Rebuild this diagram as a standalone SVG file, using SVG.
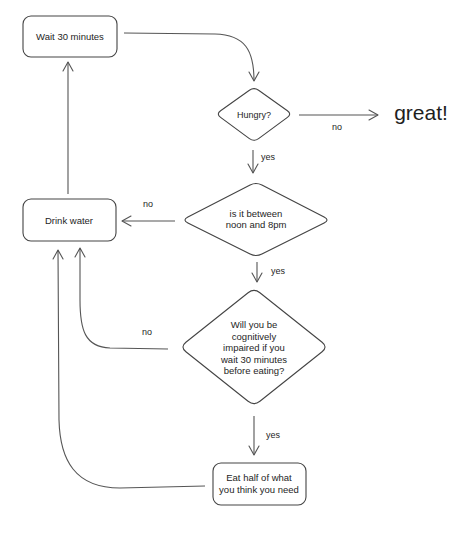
<svg xmlns="http://www.w3.org/2000/svg" width="474" height="536" viewBox="0 0 474 536">
<defs>
<marker id="arr" markerUnits="userSpaceOnUse" markerWidth="14" markerHeight="14" refX="10" refY="6" orient="auto">
<path d="M1,1 L10,6 L1,11" fill="none" stroke="#555" stroke-width="1.1" stroke-linecap="round" stroke-linejoin="round"/>
</marker>
<style>
.n{fill:#fff;stroke:#444;stroke-width:1.1}
.c{fill:none;stroke:#555;stroke-width:1.1;marker-end:url(#arr)}
text{font-family:"Liberation Sans",Arial,sans-serif;font-size:9.5px;fill:#1e1e1e;text-anchor:middle}
.l{font-size:9px}
</style>
</defs>
<rect width="474" height="536" fill="#fff"/>
<g id="connectors">
<path class="c" d="M124,33 L215,34 C245,35 254,50 254,81"/>
<path class="c" d="M299,115 L378,115"/>
<path class="c" d="M253,150 L253,173"/>
<path class="c" d="M175,221 L122,221"/>
<path class="c" d="M257,262 L257,282"/>
<path class="c" d="M168,349 L110,348 C85,347 80,330 80,300 L80,248"/>
<path class="c" d="M68,194 L68,62"/>
<path class="c" d="M254,416 L254,455"/>
<path class="c" d="M205,486 L120,488 C75,488 60,460 59,420 L58,250"/>
<text class="l" x="337" y="130">no</text>
<text class="l" x="268" y="160">yes</text>
<text class="l" x="148" y="207">no</text>
<text class="l" x="278" y="274">yes</text>
<text class="l" x="147" y="335">no</text>
<text class="l" x="273" y="438">yes</text>
</g>
<g id="wait">
<rect class="n" x="23" y="16" width="94" height="41" rx="8"/>
<text x="70" y="40">Wait 30 minutes</text>
</g>
<g id="hungry">
<path class="n" d="M249.4,90.2 Q254,87 258.6,90.2 L287.4,110.8 Q292,114 287.4,117.4 L258.6,138.6 Q254,142 249.4,138.6 L220.6,117.4 Q216,114 220.6,110.8 Z"/>
<text x="254" y="118" style="font-size:9px">Hungry?</text>
</g>
<g id="great">
<text x="421" y="120" style="font-size:21px">great!</text>
</g>
<g id="between">
<path class="n" d="M250.1,185 Q256,182 261.9,185 L324.1,217 Q330,220 324.1,223 L261.9,254 Q256,257 250.1,254 L187.9,223 Q182,220 187.9,217 Z"/>
<text x="256" y="217">is it between</text>
<text x="256" y="228">noon and 8pm</text>
</g>
<g id="drink">
<rect class="n" x="23" y="199" width="93" height="42" rx="8"/>
<text x="69" y="224">Drink water</text>
</g>
<g id="impaired">
<path class="n" d="M248.1,292.7 Q254,288 259.9,292.7 L322.1,342.3 Q328,347 322.1,351.7 L259.9,401.3 Q254,406 248.1,401.3 L185.9,351.7 Q180,347 185.9,342.3 Z"/>
<text x="254" y="328">Will you be</text>
<text x="254" y="339.5">cognitively</text>
<text x="254" y="351">impaired if you</text>
<text x="254" y="362.5">wait 30 minutes</text>
<text x="254" y="374">before eating?</text>
</g>
<g id="eat">
<rect class="n" x="213" y="463" width="93" height="42" rx="8"/>
<text x="259" y="481">Eat half of what</text>
<text x="259" y="493">you think you need</text>
</g>
</svg>
